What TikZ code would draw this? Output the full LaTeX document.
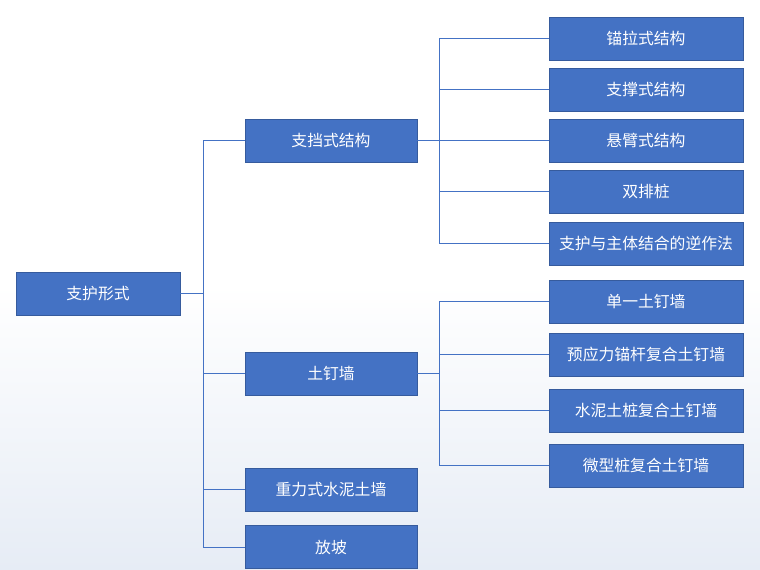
\documentclass[tikz,border=0pt]{standalone}
\usepackage{fontspec}
\newfontfamily\cjk{Noto Sans CJK SC}
\definecolor{boxblue}{HTML}{4472C4}
\definecolor{bgbot}{HTML}{E6ECF5}
\tikzset{
  box/.style={fill = boxblue, draw = boxblue!80!black, text = white, minimum height = 0.86cm, inner sep = 0pt, font = \cjk\fontsize{9}{11}\selectfont},
  lbox/.style={box, minimum width = 3.44cm},
  rbox/.style={box, minimum width = 3.88cm},
  link/.style={draw = boxblue, line width = 0.5pt}
}
\begin{document}
\begin{tikzpicture}[x = 0.02cm, y = -0.02cm]
        \shade[top color = white, bottom color = bgbot, middle color = white] (0, 0) rectangle (760, 570);
        \useasboundingbox (0, 0) rectangle (760, 570);

        \node[box, minimum width = 3.28cm] (root) at (98, 293.5) {支护形式};
        \node[lbox] (zd) at (331, 140.5) {支挡式结构};
        \node[lbox] (td) at (331, 373.5) {土钉墙};
        \node[lbox] (zl) at (331, 489.5) {重力式水泥土墙};
        \node[lbox] (fp) at (331, 547) {放坡};

        \node[rbox] (a1) at (646, 38.5) {锚拉式结构};
        \node[rbox] (a2) at (646, 89.5) {支撑式结构};
        \node[rbox] (a3) at (646, 140.5) {悬臂式结构};
        \node[rbox] (a4) at (646, 191.5) {双排桩};
        \node[rbox] (a5) at (646, 243.5) {支护与主体结合的逆作法};
        \node[rbox] (b1) at (646, 301.5) {单一土钉墙};
        \node[rbox] (b2) at (646, 354.5) {预应力锚杆复合土钉墙};
        \node[rbox] (b3) at (646, 410.5) {水泥土桩复合土钉墙};
        \node[rbox] (b4) at (646, 465.5) {微型桩复合土钉墙};

        % trunk lines
        \coordinate (j0) at (203, 293.5);
        \draw[link] (root.east) -- (j0);
        \foreach \n in {zd, td, zl, fp}
            \draw[link] (j0) |- (\n.west);
        \coordinate (j1) at (439, 140.5);
        \draw[link] (zd.east) -- (j1);
        \foreach \n in {a1, a2, a3, a4, a5}
            \draw[link] (j1) |- (\n.west);
        \coordinate (j2) at (439, 373.5);
        \draw[link] (td.east) -- (j2);
        \foreach \n in {b1, b2, b3, b4}
            \draw[link] (j2) |- (\n.west);
    \end{tikzpicture}
\end{document}
